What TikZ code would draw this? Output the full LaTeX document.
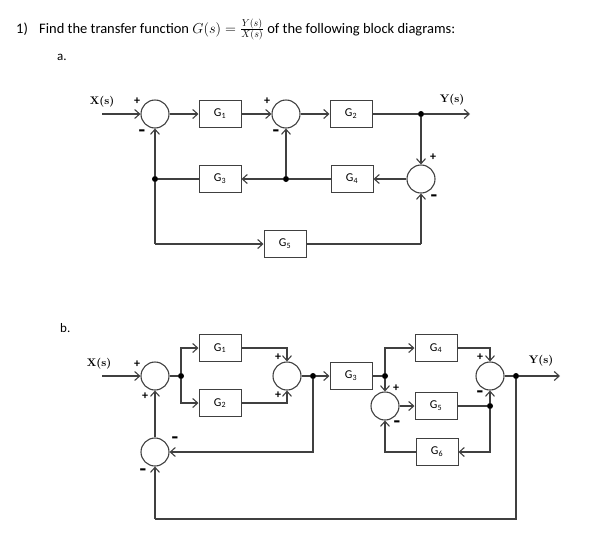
\documentclass[tikz,border=0pt]{standalone}
\usepackage{fontspec}
\setmainfont{Carlito}
\usetikzlibrary{arrows.meta,calc}
\definecolor{ln}{HTML}{404040}
\newfontfamily\lmfam{Latin Modern Roman}
\newfontfamily\djv{DejaVu Sans}
\tikzset{
  sumnode/.style={circle,draw=ln,line width=1.1pt,minimum size=28pt,inner sep=0pt},
  blk/.style={rectangle,draw=ln,line width=1pt,fill=white,minimum width=42pt,minimum height=27pt,inner sep=0pt,font=\fontsize{12}{12}\selectfont},
  dotn/.style={circle,fill=black,minimum size=6pt,inner sep=0pt},
  sig/.style={font=\fontsize{12}{12}\bfseries\selectfont,inner sep=0pt},
  msig/.style={font=\fontsize{10}{10}\djv\bfseries,inner sep=0pt},
  io/.style={inner sep=0pt},
  wire/.style={draw=ln,line width=1.1pt},
  arr/.style={wire,-{Straight Barb[length=5pt,width=9pt,line width=1.1pt]}},
  txt/.style={font=\fontsize{14.5}{17}\selectfont,inner sep=0pt,anchor=base west}
}
\newcommand{\mn}{\scalebox{0.85}[1.8]{−}}
\begin{document}
\begin{tikzpicture}[x=1pt,y=-1pt]
\useasboundingbox (0,0) rectangle (591,536);
% title
\node[txt] (t1) at (16,33) {1)};
\node[txt] (t2) at (39,33) {Find the transfer function $G(s)=\frac{Y(s)}{X(s)}$ of the following block diagrams:};
\node[txt,font=\fontsize{13}{15}\selectfont] (ta) at (57,60) {a.};
\node[txt,font=\fontsize{13}{15}\selectfont] (tb) at (60,332) {b.};

% ===== diagram a =====
\node[sumnode] (s1) at (155,114) {};
\node[blk] (g1) at (220,114) {G\textsubscript{1}};
\node[sumnode] (s2) at (286,114) {};
\node[blk] (g2) at (351,114) {G\textsubscript{2}};
\node[dotn] (d1) at (421,114) {};
\coordinate (oa) at (470,114);
\coordinate (ia) at (102,114);
\node[sumnode] (s3) at (421,179) {};
\node[blk] (g4) at (352,179) {G\textsubscript{4}};
\node[dotn] (d2) at (286,179) {};
\node[blk] (g3) at (220,179) {G\textsubscript{3}};
\node[dotn] (d3) at (155,179) {};
\node[blk] (g5) at (285,244) {G\textsubscript{5}};
\coordinate (c1) at (155,244);
\coordinate (c2) at (421,244);
\node[io,font=\fontsize{11}{11}\bfseries\lmfam] (xa) at (102,102) {X(s)};
\node[io,font=\fontsize{11}{11}\bfseries\lmfam] (ya) at (452,100) {Y(s)};

\draw[arr] (ia) -- (s1.west);
\draw[arr] (s1.east) -- (g1.west);
\draw[arr] (g1.east) -- (s2.west);
\draw[arr] (s2.east) -- (g2.west);
\draw[wire] (g2.east) -- (d1);
\draw[arr] (d1) -- (oa);
\draw[arr] (d1) -- (s3.north);
\draw[arr] (s3.west) -- (g4.east);
\draw[wire] (g4.west) -- (d2);
\draw[arr] (d2) -- (g3.east);
\draw[arr] (d2) -- (s2.south);
\draw[wire] (g3.west) -- (d3);
\draw[arr] (d3) -- (s1.south);
\draw[wire] (d3) -- (c1);
\draw[arr] (c1) -- (g5.west);
\draw[wire] (g5.east) -- (c2);
\draw[arr] (c2) -- (s3.south);

\node[sig] (p1) at (137,101) {+};
\node[msig] (m1) at (142,133) {\mn};
\node[sig] (p2) at (267,101) {+};
\node[msig] (m2) at (276,133) {\mn};
\node[sig] (p3) at (433,157) {+};
\node[msig] (m3) at (434,198) {\mn};

% ===== diagram b =====
\node[sumnode] (s4) at (155,376) {};
\node[dotn] (d4) at (181,376) {};
\node[blk] (h1) at (220,348) {G\textsubscript{1}};
\node[blk] (h2) at (220,403) {G\textsubscript{2}};
\node[sumnode] (s5) at (287,376) {};
\node[dotn] (d5) at (313,376) {};
\node[blk] (h3) at (351,376) {G\textsubscript{3}};
\node[dotn] (d6) at (385,376) {};
\node[blk] (h4) at (436,348) {G\textsubscript{4}};
\node[sumnode] (s6) at (385,406) {};
\node[blk] (h5) at (436,406) {G\textsubscript{5}};
\node[dotn] (d7) at (490,406) {};
\node[sumnode] (s7) at (490,376) {};
\node[dotn] (d8) at (516,376) {};
\node[blk] (h6) at (437,452) {G\textsubscript{6}};
\node[sumnode] (s8) at (155,452) {};
\coordinate (ib) at (102,376);
\coordinate (ob) at (560,376);
\coordinate (e2) at (516,519);
\coordinate (e3) at (155,519);
\node[io,font=\fontsize{11}{11}\bfseries\lmfam] (xb) at (99,364) {X(s)};
\node[io,font=\fontsize{11}{11}\bfseries\lmfam] (yb) at (541,361) {Y(s)};

\draw[arr] (ib) -- (s4.west);
\draw[wire] (s4.east) -- (d4);
\draw[arr] (d4) |- (h1.west);
\draw[arr] (d4) |- (h2.west);
\draw[arr] (h1.east) -| (s5.north);
\draw[arr] (h2.east) -| (s5.south);
\draw[wire] (s5.east) -- (d5);
\draw[arr] (d5) -- (h3.west);
\draw[arr] (d5) |- (s8.east);
\draw[wire] (h3.east) -- (d6);
\draw[arr] (d6) |- (h4.west);
\draw[arr] (d6) -- (s6.north);
\draw[arr] (s6.east) -- (h5.west);
\draw[wire] (h5.east) -- (d7);
\draw[arr] (d7) -- (s7.south);
\draw[arr] (h4.east) -| (s7.north);
\draw[arr] (d7) |- (h6.east);
\draw[arr] (h6.west) -| (s6.south);
\draw[wire] (s7.east) -- (d8);
\draw[arr] (d8) -- (ob);
\draw[wire] (d8) -- (e2) -- (e3);
\draw[arr] (e3) -- (s8.south);
\draw[arr] (s8.north) -- (s4.south);

\node[sig] (p4) at (137,364) {+};
\node[sig] (p5) at (145,396) {+};
\node[sig] (p6) at (278,357) {+};
\node[sig] (p7) at (278,395) {+};
\node[sig] (p8) at (396,388) {+};
\node[msig] (m8) at (397,424) {\mn};
\node[sig] (p9) at (480,357) {+};
\node[msig] (m9) at (480,394) {\mn};
\node[msig] (m10) at (175,440) {\mn};
\node[msig] (m11) at (143,472) {\mn};
\end{tikzpicture}
\end{document}
